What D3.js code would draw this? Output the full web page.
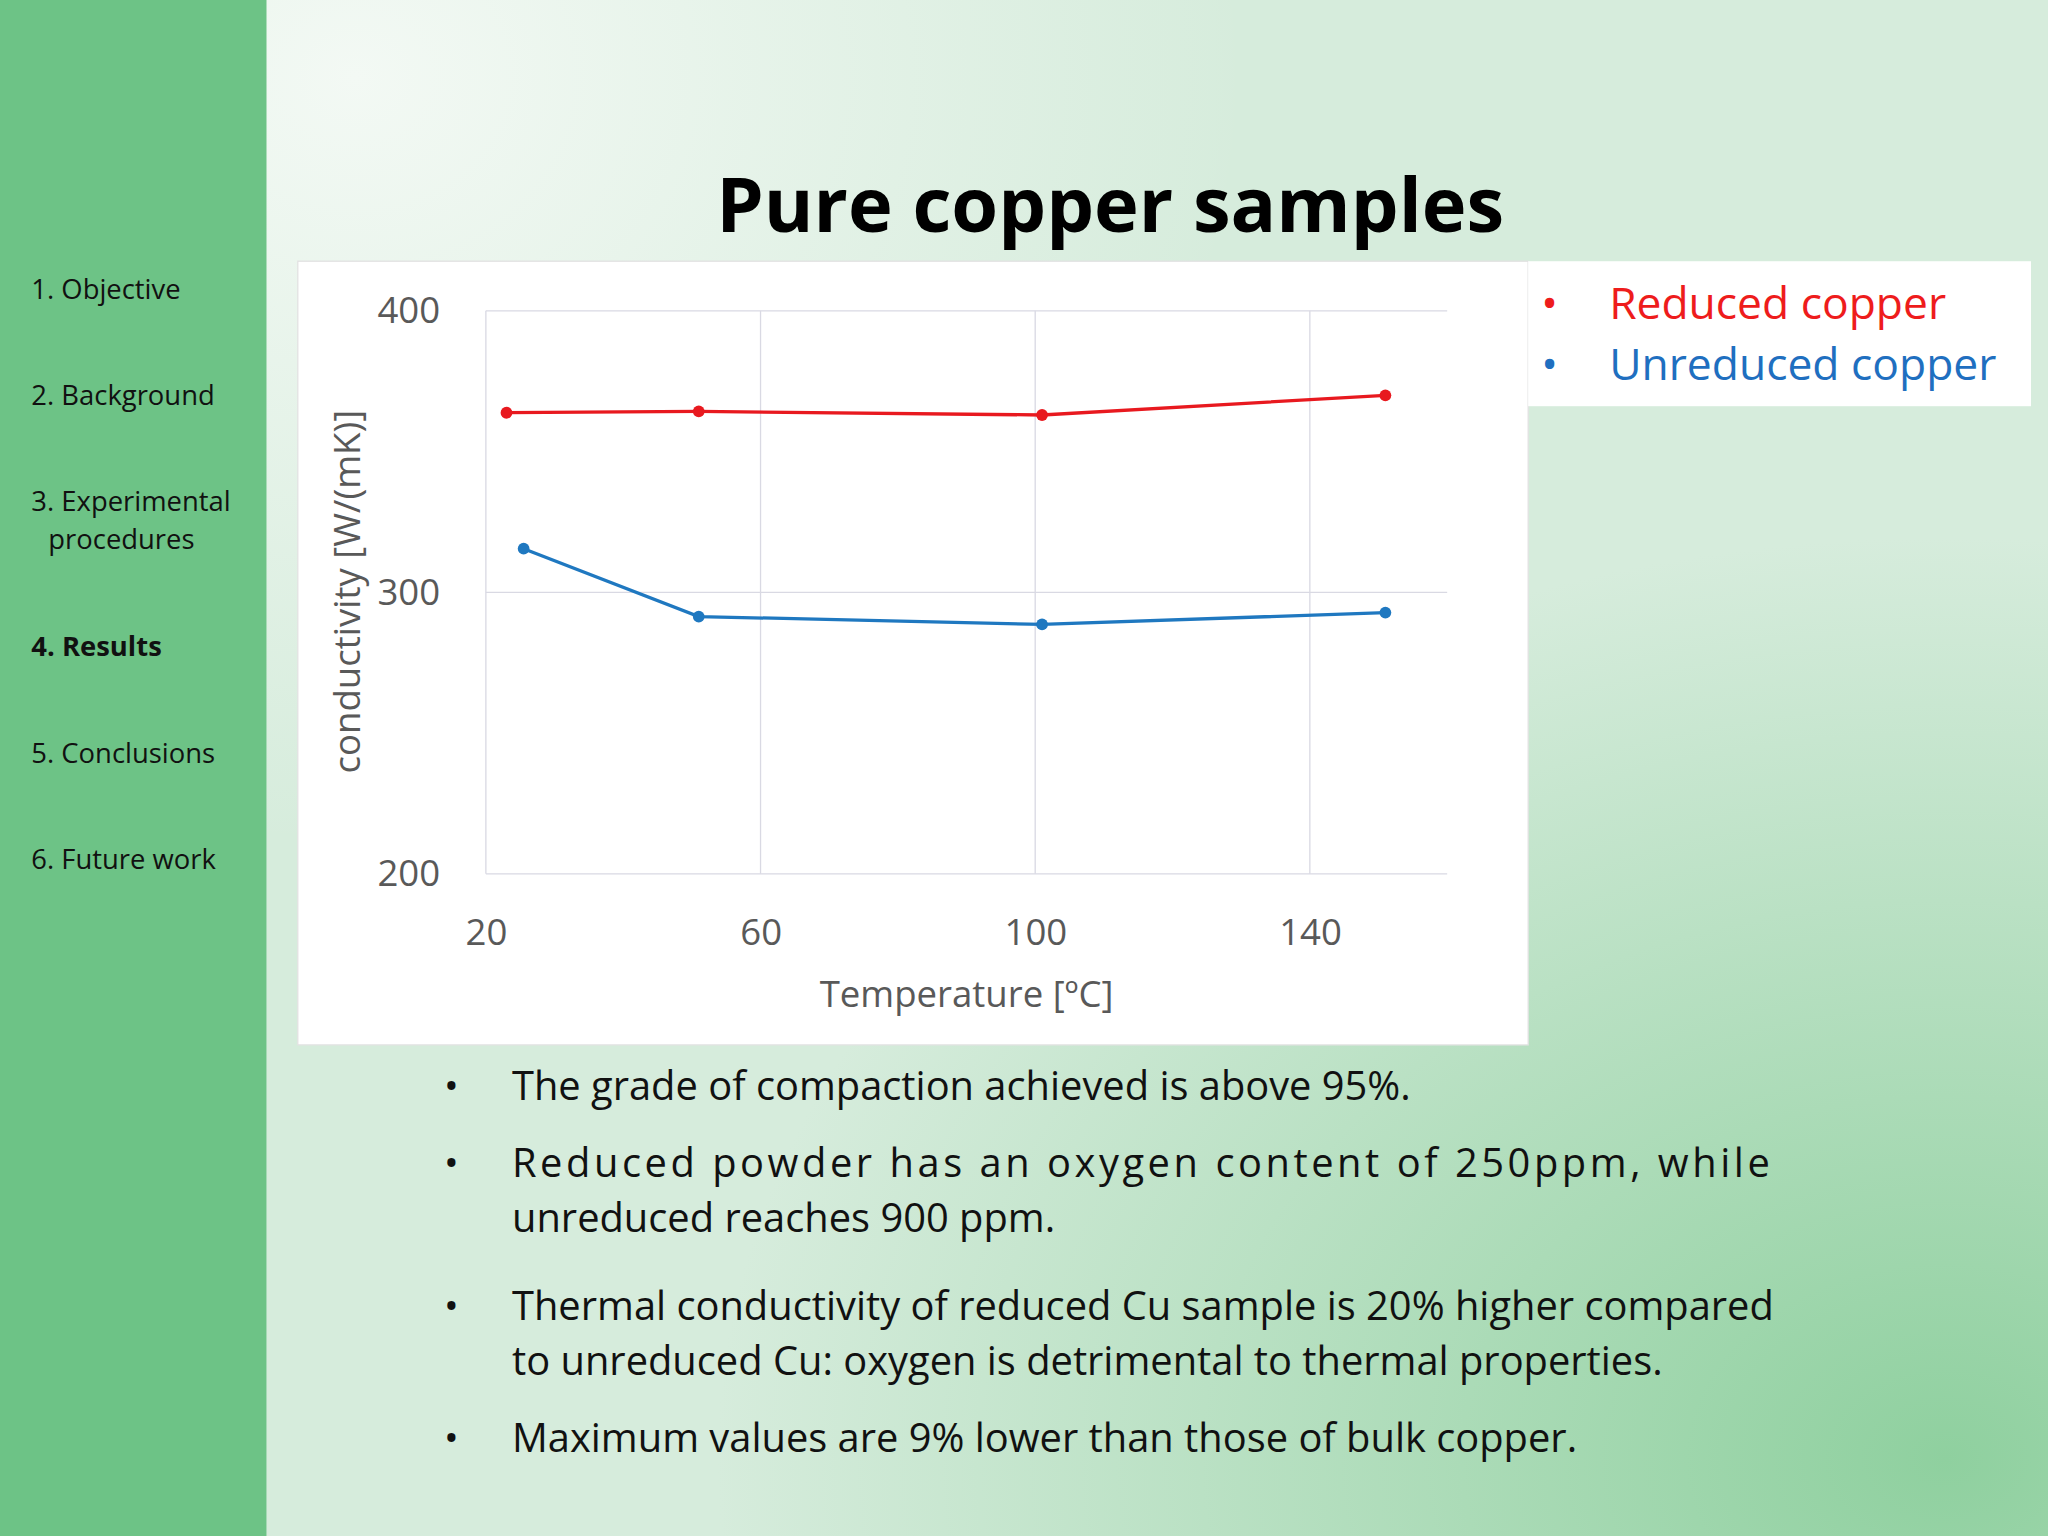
<!DOCTYPE html>
<html><head><meta charset="utf-8">
<script src="https://cdn.jsdelivr.net/npm/d3@7"></script>
<style>body{margin:0;overflow:hidden}svg{display:block;font-family:"Open Sans",Calibri,sans-serif}</style>
</head><body>
<svg id="slide" width="2048" height="1536" viewBox="0 0 1568 1176"></svg>
<script>
var temps = [23, 51, 101, 151],
    tempsUnreduced = [25.5, 51, 101, 151],
    reduced = [363.8, 364.3, 363, 370],
    unreduced = [315.5, 291.4, 288.6, 292.8],
    xTicks = [20, 60, 100, 140],
    yTicks = [200, 300, 400],
    menu = ['1. Objective', '2. Background', '3. Experimental|procedures', '4. Results', '5. Conclusions', '6. Future work'],
    bullets = [
        ['The grade of compaction achieved is above 95%.'],
        ['Reduced powder has an oxygen content of 250ppm, while', 'unreduced reaches 900 ppm.'],
        ['Thermal conductivity of reduced Cu sample is 20% higher compared', 'to unreduced Cu: oxygen is detrimental to thermal properties.'],
        ['Maximum values are 9% lower than those of bulk copper.']
    ];

var svg = d3.select('#slide');
var defs = svg.append('defs');
var g1 = defs.append('radialGradient').attr('id', 'bg').attr('cx', 0.95).attr('cy', 0.95).attr('r', 0.6);
g1.append('stop').attr('offset', 0).attr('stop-color', '#8fd09f');
g1.append('stop').attr('offset', 1).attr('stop-color', '#d6ecdc');
svg.append('rect').attr('width', 1568).attr('height', 1176).attr('fill', 'url(#bg)');
var g2 = defs.append('radialGradient').attr('id', 'bg2').attr('cx', 0.05).attr('cy', 0.05).attr('r', 0.5);
g2.append('stop').attr('offset', 0).attr('stop-color', '#f3f9f4');
g2.append('stop').attr('offset', 1).attr('stop-color', '#f3f9f4').attr('stop-opacity', 0);
svg.append('rect').attr('x', 204).attr('width', 1364).attr('height', 1176).attr('fill', 'url(#bg2)');

// sidebar
svg.append('rect').attr('width', 204).attr('height', 1176).attr('fill', '#6dc386');
menu.forEach(function (m, i) {
    var y = [222, 303, 384, 495, 577, 658][i];
    m.split('|').forEach(function (line, j) {
        svg.append('text').attr('x', j ? 37 : 24).attr('y', y + j * 29 + 7)
            .attr('font-size', 21).attr('font-weight', i === 3 ? 'bold' : 'normal')
            .attr('fill', '#111').text(line);
    });
});

svg.append('text').attr('x', 850).attr('y', 178).attr('text-anchor', 'middle')
    .attr('font-size', 58).attr('font-weight', 'bold')
    .attr('fill', '#000').text('Pure copper samples');

// chart
svg.append('rect').attr('x', 228).attr('y', 200).attr('width', 942).attr('height', 600)
    .attr('fill', '#fff').attr('stroke', '#e2e2e2');
var x = d3.scaleLinear().domain([20, 160]).range([372, 1108]);
var y = d3.scaleLinear().domain([200, 400]).range([669, 238]);

svg.append('g').selectAll('line').data(xTicks).join('line')
    .attr('x1', x).attr('x2', x).attr('y1', y(400)).attr('y2', y(200)).attr('stroke', '#d9d9e3');
svg.append('g').selectAll('line').data(yTicks).join('line')
    .attr('x1', x(20)).attr('x2', x(160)).attr('y1', y).attr('y2', y).attr('stroke', '#d9d9e3');

var xa = svg.append('g').attr('transform', 'translate(0,' + (y(200) + 42) + ')')
    .call(d3.axisBottom(x).tickValues(xTicks).tickSize(0));
var ya = svg.append('g').attr('transform', 'translate(' + (x(20) - 32) + ',0)')
    .call(d3.axisLeft(y).tickValues(yTicks).tickSize(0));
[xa, ya].forEach(function (a) {
    a.select('.domain').remove();
    a.selectAll('text').attr('font-size', 28).attr('fill', '#595959').attr('font-family', 'Open Sans');
});
xa.selectAll('text').attr('dy', '0.35em');

svg.append('text').attr('x', 740).attr('y', 771).attr('text-anchor', 'middle')
    .attr('font-size', 28).attr('fill', '#595959').text('Temperature [ºC]');
svg.append('text').attr('transform', 'translate(276,453) rotate(-90)').attr('text-anchor', 'middle')
    .attr('font-size', 28).attr('fill', '#595959').text('conductivity [W/(mK)]');

var line = d3.line().x(function (d) { return x(d[0]); }).y(function (d) { return y(d[1]); });
[[d3.zip(temps, reduced), '#e8191f'], [d3.zip(tempsUnreduced, unreduced), '#1f78c0']].forEach(function (s) {
    svg.append('path').attr('d', line(s[0])).attr('fill', 'none').attr('stroke', s[1]).attr('stroke-width', 2.5);
    svg.append('g').selectAll('circle').data(s[0]).join('circle')
        .attr('cx', function (d) { return x(d[0]); }).attr('cy', function (d) { return y(d[1]); })
        .attr('r', 4.5).attr('fill', s[1]);
});

// legend
svg.append('rect').attr('x', 1170).attr('y', 200).attr('width', 385).attr('height', 111).attr('fill', '#fff');
[['Reduced copper', '#ee1c1c'], ['Unreduced copper', '#1f6fc0']].forEach(function (l, i) {
    svg.append('text').attr('x', 1180).attr('y', 244 + i * 47).attr('font-size', 34).attr('fill', l[1]).text('•');
    svg.append('text').attr('x', 1232).attr('y', 244 + i * 47).attr('font-size', 34).attr('fill', l[1]).text(l[0]);
});

// bullets
var by = [842, 901, 1011, 1112];
bullets.forEach(function (b, i) {
    svg.append('text').attr('x', 340).attr('y', by[i]).attr('font-size', 30).attr('fill', '#111').text('•');
    b.forEach(function (t, j) {
        var tx = svg.append('text').attr('x', 392).attr('y', by[i] + j * 42).attr('font-size', 30.5)
            .attr('fill', '#111').text(t);
        // justified first line of the two-line paragraph
        if (i === 1 && j === 0) tx.attr('textLength', 963).attr('lengthAdjust', 'spacing');
    });
});
</script>
</body></html>
